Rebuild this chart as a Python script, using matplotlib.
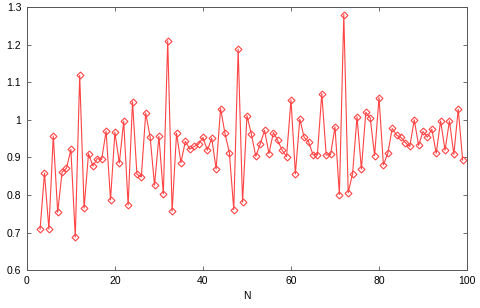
import numpy as np
import matplotlib
matplotlib.use('Agg')
import matplotlib.pyplot as plt

plt.rcParams['font.family'] = ['Liberation Sans', 'DejaVu Sans']

n_values = list(range(3, 100))
ratio = [
    0.709, 0.858, 0.709, 0.957, 0.754, 0.861, 0.871, 0.921, 0.688, 1.118,
    0.765, 0.910, 0.877, 0.897, 0.895, 0.970, 0.787, 0.967, 0.885, 0.996,
    0.773, 1.048, 0.855, 0.848, 1.018, 0.954, 0.826, 0.956, 0.803, 1.210,
    0.757, 0.964, 0.886, 0.943, 0.922, 0.929, 0.935, 0.953, 0.919, 0.951,
    0.869, 1.030, 0.964, 0.913, 0.761, 1.188, 0.781, 1.011, 0.962, 0.903,
    0.935, 0.972, 0.910, 0.966, 0.945, 0.919, 0.902, 1.053, 0.856, 1.002,
    0.953, 0.942, 0.907, 0.907, 1.070, 0.906, 0.908, 0.981, 0.801, 1.280,
    0.806, 0.857, 1.008, 0.869, 1.020, 1.005, 0.905, 1.059, 0.880, 0.911,
    0.977, 0.959, 0.953, 0.939, 0.929, 1.000, 0.932, 0.969, 0.954, 0.975,
    0.911, 0.997, 0.919, 0.997, 0.908, 1.028, 0.893,
]
x_ticks = [0, 20, 40, 60, 80, 100]
y_ticks = [0.6, 0.7, 0.8, 0.9, 1.0, 1.1, 1.2, 1.3]
y_labels = ['0.6', '0.7', '0.8', '0.9', '1', '1.1', '1.2', '1.3']

fig = plt.figure(figsize=(4.8, 3.08), dpi=100)
ax = fig.add_axes([0.056, 0.123, 0.917, 0.854])

ax.plot(n_values, ratio, color='#ff4444', linewidth=0.8,
        marker='D', markersize=3.5, markerfacecolor='none',
        markeredgecolor='#ff4444', markeredgewidth=0.8)

ax.set_xlim(0, 100)
ax.set_ylim(0.6, 1.3)
ax.set_xticks(x_ticks)
ax.set_yticks(y_ticks)
ax.set_yticklabels(y_labels)
ax.tick_params(direction='in', length=3, width=0.6, labelsize=7.5,
               top=True, right=True, color='#555555', pad=4)
for spine in ax.spines.values():
    spine.set_linewidth(0.7)
    spine.set_color('#555555')
ax.set_xlabel('N', fontsize=7.5, labelpad=4)

fig.savefig('out.png', dpi=100)
